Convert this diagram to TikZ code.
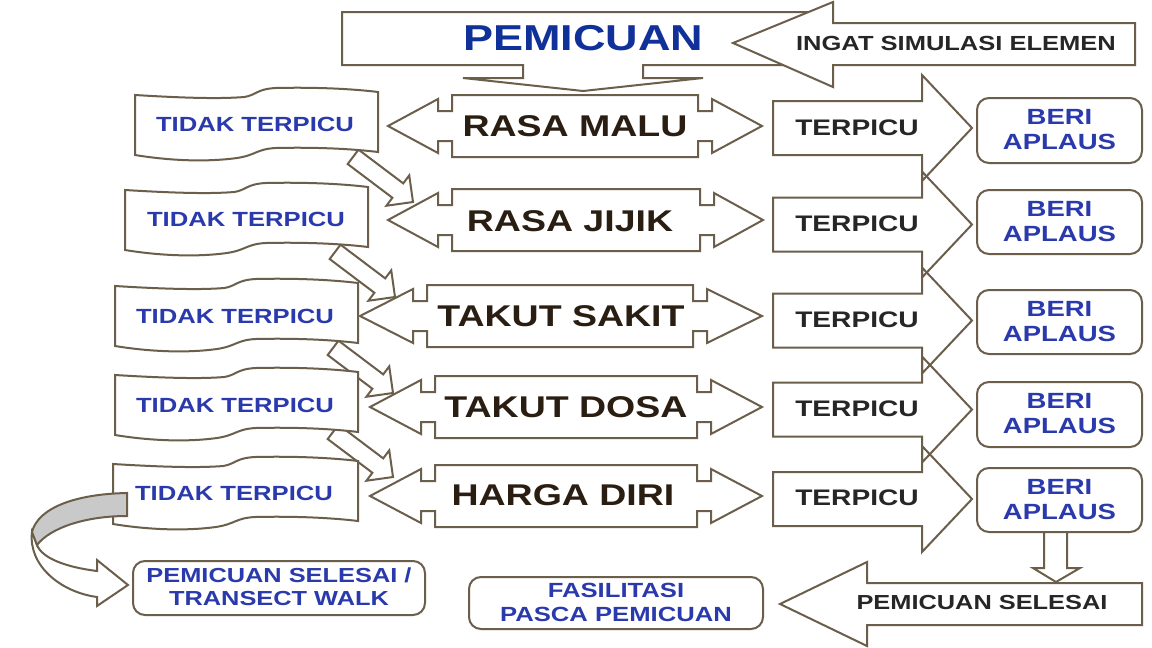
\documentclass[tikz,border=0pt]{standalone}
\usepackage{fontspec}
\newfontfamily\wf[FakeStretch=1.25]{Liberation Sans}
\definecolor{lc}{HTML}{6B5F4C}
\definecolor{bluetx}{HTML}{2A3AAC}
\definecolor{titletx}{HTML}{10309A}
\definecolor{darktx}{HTML}{2A1E12}
\definecolor{graytx}{HTML}{262626}
\definecolor{bandgray}{HTML}{C9C9C9}
\tikzset{
  shp/.style={draw=lc, line width=2pt, fill=white, line join=miter},
  outl/.style={draw=lc, line width=2pt, line join=miter},
  rbox/.style={draw=lc, line width=2pt, fill=white, rounded corners=12pt},
  txt/.style={inner sep=0pt, align=center, font=\wf\bfseries},
  tiny/.style={txt, text=bluetx, font=\wf\bfseries\fontsize{20.5}{24}\selectfont},
  midl/.style={txt, text=darktx, font=\wf\bfseries\fontsize{30}{34}\selectfont},
  terp/.style={txt, text=graytx, font=\wf\bfseries\fontsize{22.5}{26}\selectfont},
  beri/.style={txt, text=bluetx, font=\wf\bfseries\fontsize{22}{25}\selectfont},
  fin/.style={txt, text=graytx, font=\wf\bfseries\fontsize{20.3}{24}\selectfont},
}
% double (left-right) arrow callout: cy, tipL, bodyL, bodyR, tipR
\newcommand\mklr[5]{%
 \draw[shp] (#3,{#1-31}) -- (#4,{#1-31}) -- (#4,{#1-15}) -- ({#4+14},{#1-15}) -- ({#4+14},{#1-27}) -- (#5,#1) -- ({#4+14},{#1+27}) -- ({#4+14},{#1+15}) -- (#4,{#1+15}) -- (#4,{#1+31}) -- (#3,{#1+31}) -- (#3,{#1+15}) -- ({#3-14},{#1+15}) -- ({#3-14},{#1+27}) -- (#2,#1) -- ({#3-14},{#1-27}) -- ({#3-14},{#1-15}) -- (#3,{#1-15}) -- cycle;}
% right block arrow path (TERPICU)
\newcommand\rpath[1]{(773,{#1-27}) -- (922,{#1-27}) -- (922,{#1-53}) -- (972,#1) -- (922,{#1+53}) -- (922,{#1+27}) -- (773,{#1+27}) -- cycle}
% small diagonal arrow with tip at (#1,#2)
\newcommand\mksmall[2]{%
 \begin{scope}[shift={(#1,#2)}, rotate=-37]
 \draw[shp] (0,0) -- (-19,19) -- (-19,9) -- (-75,9) -- (-75,-9) -- (-19,-9) -- (-19,-19) -- cycle;
 \end{scope}}
% wave shape: x0, x1, cy
\newcommand\mkwave[3]{%
 \draw[shp] (#1,{#3-30}) .. controls ({#1+0.2*(#2-#1)},{#3-27}) and ({#1+0.35*(#2-#1)},{#3-26}) .. ({#1+0.45*(#2-#1)},{#3-28})
   .. controls ({#1+0.5*(#2-#1)},{#3-30}) and ({#1+0.5*(#2-#1)},{#3-36}) .. ({#1+0.58*(#2-#1)},{#3-37})
   .. controls ({#1+0.75*(#2-#1)},{#3-38}) and ({#1+0.9*(#2-#1)},{#3-36}) .. (#2,{#3-33})
   -- (#2,{#3+27})
   .. controls ({#1+0.9*(#2-#1)},{#3+24}) and ({#1+0.75*(#2-#1)},{#3+22}) .. ({#1+0.58*(#2-#1)},{#3+23})
   .. controls ({#1+0.5*(#2-#1)},{#3+24}) and ({#1+0.5*(#2-#1)},{#3+30}) .. ({#1+0.42*(#2-#1)},{#3+33})
   .. controls ({#1+0.3*(#2-#1)},{#3+37}) and ({#1+0.15*(#2-#1)},{#3+36}) .. (#1,{#3+30}) -- cycle;}
\begin{document}
\begin{tikzpicture}[x=1pt,y=-1pt]
\fill[white] (0,0) rectangle (1152,648);
\useasboundingbox (0,0) rectangle (1152,648);

% small diagonal arrows between rows
\mksmall{413}{202}
\mksmall{395}{297}
\mksmall{393}{393}
\mksmall{393}{477}

% wave shapes
\mkwave{135}{378}{125}
\mkwave{125}{368}{220}
\mkwave{115}{358}{316}
\mkwave{115}{358}{405}
\mkwave{113}{358}{494}

% curved arrow from last wave
\draw[shp] (32,532) .. controls (28,565) and (60,592) .. (97,597) -- (97,606) -- (128,585) -- (97,560) -- (97,571) .. controls (65,567) and (42,558) .. (37,545) -- cycle;
\draw[shp, fill=bandgray] (127,493) .. controls (75,494) and (38,508) .. (32,532) -- (37,545) .. controls (50,528) and (85,516) .. (127,516) -- cycle;

% PEMICUAN down-arrow callout
\draw[shp] (342,12) -- (828,12) -- (828,65) -- (643,65) -- (643,78) -- (703,78) -- (583,91) -- (463,78) -- (523,78) -- (523,65) -- (342,65) -- cycle;
% INGAT SIMULASI ELEMEN left arrow
\draw[shp] (733,43) -- (833,2) -- (833,23) -- (1135,23) -- (1135,65) -- (833,65) -- (833,87) -- cycle;

% double arrows
\mklr{126}{388}{452}{698}{762}
\mklr{220}{388}{452}{700}{763}
\mklr{316}{360}{427}{693}{762}
\mklr{407}{370}{435}{697}{762}
\mklr{496}{370}{435}{697}{762}

% TERPICU arrows: fill first, then outlines
\foreach \c in {128,224.5,320.5,409.5,499}{ \fill[white] \rpath{\c}; }
\foreach \c in {128,224.5,320.5,409.5,499}{ \draw[outl] \rpath{\c}; }

% BERI APLAUS boxes
\draw[rbox] (977,98) rectangle (1142,163);
\draw[rbox] (977,190) rectangle (1142,254);
\draw[rbox] (977,290) rectangle (1142,354);
\draw[rbox] (977,382) rectangle (1142,447);
\draw[rbox] (977,468) rectangle (1142,532);

% PEMICUAN SELESAI left arrow
\draw[shp] (780,604) -- (867,562) -- (867,583) -- (1142,583) -- (1142,625) -- (867,625) -- (867,646) -- cycle;
% small down arrow
\draw[shp] (1044,532) -- (1067,532) -- (1067,568) -- (1080,568) -- (1056,582) -- (1033,568) -- (1044,568) -- cycle;

% end boxes
\draw[rbox] (469,577) rectangle (763,629);
\draw[rbox] (133,561) rectangle (425,615);

% texts
\node[txt, text=titletx, font=\wf\bfseries\fontsize{36}{40}\selectfont] (title) at (583,38) {PEMICUAN};
\node[fin, font=\wf\bfseries\fontsize{20.4}{24}\selectfont] (ingat) at (956,43) {INGAT SIMULASI ELEMEN};

\node[midl] (m1) at (575,126) {RASA MALU};
\node[midl] (m2) at (570,221) {RASA JIJIK};
\node[midl] (m3) at (561,316) {TAKUT SAKIT};
\node[midl] (m4) at (566,407) {TAKUT DOSA};
\node[midl] (m5) at (563,495) {HARGA DIRI};

\node[tiny] (t1) at (255,124) {TIDAK TERPICU};
\node[tiny] (t2) at (246,219) {TIDAK TERPICU};
\node[tiny] (t3) at (235,316) {TIDAK TERPICU};
\node[tiny] (t4) at (235,405) {TIDAK TERPICU};
\node[tiny] (t5) at (234,493) {TIDAK TERPICU};

\node[terp] (p1) at (857,128) {TERPICU};
\node[terp] (p2) at (857,224) {TERPICU};
\node[terp] (p3) at (857,320) {TERPICU};
\node[terp] (p4) at (857,409) {TERPICU};
\node[terp] (p5) at (857,498) {TERPICU};

\node[beri] (b1) at (1059.5,130) {BERI\\APLAUS};
\node[beri] (b2) at (1059.5,222) {BERI\\APLAUS};
\node[beri] (b3) at (1059.5,322) {BERI\\APLAUS};
\node[beri] (b4) at (1059.5,414) {BERI\\APLAUS};
\node[beri] (b5) at (1059.5,500) {BERI\\APLAUS};

\node[fin] (sel) at (982,603) {PEMICUAN SELESAI};
\node[tiny] (fas) at (616,602) {FASILITASI\\PASCA PEMICUAN};
\node[tiny, font=\wf\bfseries\fontsize{20.3}{23}\selectfont] (trw) at (279,587) {PEMICUAN SELESAI /\\TRANSECT WALK};
\end{tikzpicture}
\end{document}
